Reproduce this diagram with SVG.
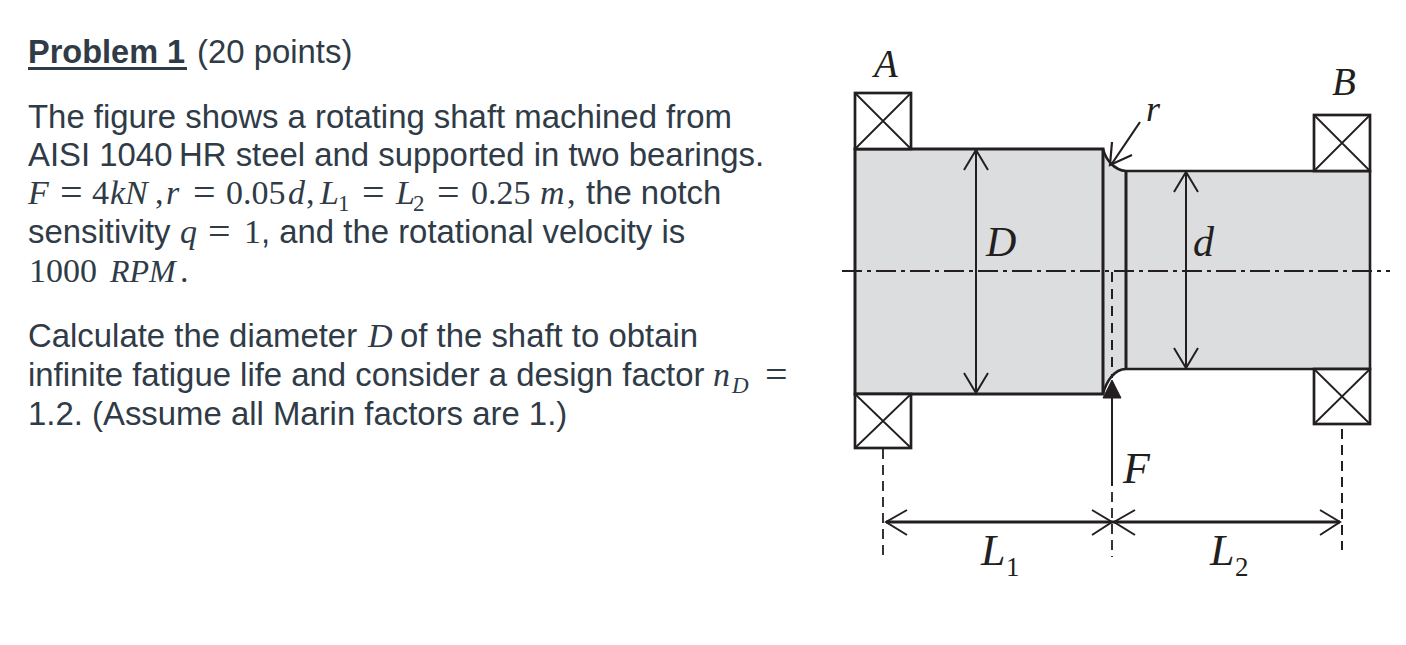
<svg xmlns="http://www.w3.org/2000/svg" width="1406" height="645" viewBox="0 0 1406 645">
<style>
.t{font-family:"Liberation Sans",Arial,sans-serif;font-size:32.9px;fill:#2f3b46}
.m{font-family:"Liberation Serif","Times New Roman",serif;font-size:34px;fill:#2f3b46}
.mi{font-style:italic}
.s{font-size:23px}
.e{font-size:40px}
.l{font-family:"Liberation Serif","Times New Roman",serif;font-style:italic;fill:#231f20}
.n{font-style:normal}
.ln{fill:none;stroke:#231f20}
.bx{fill:#fff;stroke:#231f20;stroke-width:2.7}
.x{fill:none;stroke:#231f20;stroke-width:1.8}
</style>
<rect width="1406" height="645" fill="#fff"/>
<g id="text">
<text class="t" x="28" y="63" font-weight="700" style="font-size:32.5px">Problem 1</text>
<rect x="28" y="67" width="159" height="3" fill="#2f3b46"/>
<text class="t" x="197" y="63">(20 points)</text>
<text class="t" x="28" y="128">The figure shows a rotating shaft machined from</text>
<text class="t" x="28" y="166">AISI 1040</text>
<text class="t" x="179" y="166">HR steel and supported in two bearings.</text>
<text class="m" y="204"><tspan class="mi" x="28">F</tspan><tspan class="e" x="60" y="206">=</tspan><tspan x="92" y="204">4</tspan><tspan class="mi" x="110">kN</tspan><tspan x="155">,</tspan><tspan class="mi" x="166">r</tspan><tspan class="e" x="193" y="206">=</tspan><tspan x="226" y="204">0.05</tspan><tspan class="mi" x="288">d</tspan><tspan x="306">,</tspan><tspan class="mi" x="320">L</tspan><tspan class="s" x="338" y="211">1</tspan><tspan class="e" x="362" y="206">=</tspan><tspan class="mi" x="396" y="204">L</tspan><tspan class="s" x="413" y="211">2</tspan><tspan class="e" x="437" y="206">=</tspan><tspan x="471" y="204">0.25</tspan><tspan class="mi" x="540">m</tspan><tspan x="567">,</tspan></text>
<text class="t" x="586" y="204">the notch</text>
<text class="t" x="28" y="243">sensitivity</text>
<text class="m" y="243"><tspan class="mi" x="180">q</tspan><tspan class="e" x="208" y="245">=</tspan><tspan x="244" y="243">1</tspan></text>
<text class="t" x="261" y="243">, and the rotational velocity is</text>
<text class="m" y="282"><tspan x="29">1000</tspan><tspan class="mi" x="110" style="font-size:32px">RPM</tspan><tspan x="180">.</tspan></text>
<text class="t" x="28" y="347">Calculate the diameter</text>
<text class="m mi" x="368" y="347">D</text>
<text class="t" x="400" y="347">of the shaft to obtain</text>
<text class="t" x="28" y="386">infinite fatigue life and consider a design factor</text>
<text class="m" y="386"><tspan class="mi" x="713">n</tspan><tspan class="mi s" x="732" y="393">D</tspan><tspan class="e" x="765" y="388">=</tspan></text>
<text class="t" x="28" y="425">1.2. (Assume all Marin factors are 1.)</text>
</g>
<g id="shaft">
<path d="M855 149H1102C1106 160 1114 170 1126 171H1370V369H1126C1114 369 1106 382 1102 394H855Z" fill="#dcddde"/>
<path class="ln" stroke-width="3" d="M855 149H1103V394H855ZM1126 171V369"/>
<path class="ln" stroke-width="2.6" d="M1103 149C1106 160 1114 170 1126 171H1370V369H1126C1114 369 1106 382 1103 394"/>
</g>
<g id="bearing-a-top"><rect class="bx" x="855" y="93" width="56" height="56"/><path class="x" d="M855 93L911 149M911 93L855 149"/></g>
<g id="bearing-a-bottom"><rect class="bx" x="855" y="394" width="56" height="54"/><path class="x" d="M855 394L911 448M911 394L855 448"/></g>
<g id="bearing-b-top"><rect class="bx" x="1314" y="115" width="56" height="56"/><path class="x" d="M1314 115L1370 171M1370 115L1314 171"/></g>
<g id="bearing-b-bottom"><rect class="bx" x="1314" y="369" width="56" height="55"/><path class="x" d="M1314 369L1370 424M1370 369L1314 424"/></g>
<g id="connectors">
<path class="ln" stroke-width="1.8" stroke-dasharray="20 5 4 5" d="M842 271H1390"/>
<path class="ln" stroke-width="2" d="M976 150V393M964 170L976 150L988 170M964 373L976 393L988 373"/>
<path class="ln" stroke-width="2" d="M1186 172V368M1174 192L1186 172L1198 192M1174 348L1186 368L1198 348"/>
<path class="ln" stroke-width="2" stroke-dasharray="10 7" d="M1112 272V378"/>
<path class="ln" stroke-width="2" d="M1112 396V486"/>
<path d="M1103 398L1112 380L1121 398Z" fill="#231f20" stroke="#231f20"/>
<path class="ln" stroke-width="1.8" stroke-dasharray="10 6" d="M1112 492V557"/>
<path class="ln" stroke-width="1.8" stroke-dasharray="10 6" d="M883 449V556"/>
<path class="ln" stroke-width="2" stroke-dasharray="10 6" d="M1342 429V550"/>
<path class="ln" stroke-width="3" d="M886 522H1340"/>
<path class="ln" stroke-width="2" d="M907 510L886 522L907 535M1092 510L1112 522L1092 535M1135 510L1114 522L1135 535M1320 510L1340 522L1320 535"/>
<path class="ln" stroke-width="2.2" d="M1140 122L1111 165"/>
<path class="ln" stroke-width="2.2" d="M1112 142L1110 165L1132 155"/>
</g>
<g id="labels">
<text class="l" x="874" y="77" font-size="39">A</text>
<text class="l" x="1332" y="95" font-size="39">B</text>
<text class="l" x="1146" y="121" font-size="36">r</text>
<text class="l" x="986" y="256" font-size="42">D</text>
<text class="l" x="1193" y="256" font-size="42">d</text>
<text class="l" x="1123" y="483" font-size="44">F</text>
<text class="l" x="981" y="565" font-size="44">L</text>
<text class="l n" x="1006" y="576" font-size="27">1</text>
<text class="l" x="1210" y="565" font-size="44">L</text>
<text class="l n" x="1235" y="576" font-size="27">2</text>
</g>
</svg>
